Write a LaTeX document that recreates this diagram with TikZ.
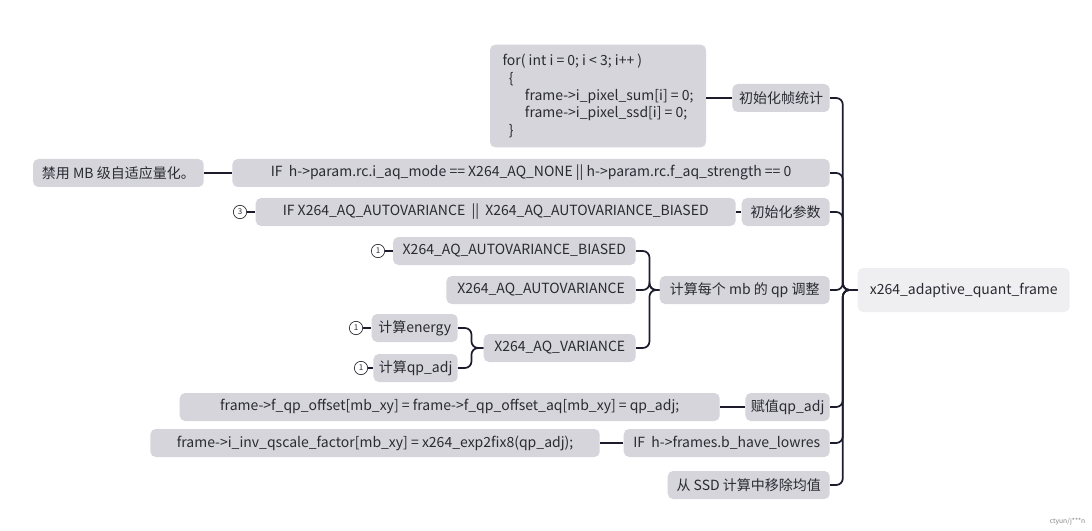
\documentclass[tikz,border=0pt]{standalone}
\usepackage{fontspec}
\setmainfont{Noto Sans CJK SC}
\definecolor{boxgray}{HTML}{D5D5DB}
\definecolor{rootgray}{HTML}{EFEFF1}
\definecolor{linecol}{HTML}{1C1C2C}
\definecolor{txtcol}{HTML}{2A2A33}
\tikzset{
  box/.style={fill=boxgray, rounded corners=4pt, text=txtcol, inner xsep=4pt, inner ysep=0pt, minimum height=21pt, font=\fontsize{10.5}{13}\selectfont, anchor=east},
  conn/.style={draw=linecol, line width=1.3pt, rounded corners=5pt},
  num/.style={circle, draw=txtcol, line width=0.5pt, inner sep=0pt, minimum size=10pt, font=\fontsize{6}{6}\selectfont, text=txtcol},
}
\begin{document}
\begin{tikzpicture}[x=0.75pt, y=-0.75pt]
\useasboundingbox (0,0) rectangle (1092,531);

% root
\node[box, fill=rootgray, minimum height=33pt, minimum width=159pt] (root) at (1070,290) {x264\_adaptive\_quant\_frame};

% first level
\node[box, minimum width=73pt] (stat) at (830,98) {初始化帧统计};
\node[box, minimum width=448pt] (ifnone) at (830,173) {IF\ \ h->param.rc.i\_aq\_mode == X264\_AQ\_NONE || h->param.rc.f\_aq\_strength == 0};
\node[box, minimum width=66pt] (param) at (830,212) {初始化参数};
\node[box, minimum width=127.5pt] (calc) at (830,290) {计算每个 mb 的 qp 调整};
\node[box, minimum width=62pt] (assign) at (830,407) {赋值qp\_adj};
\node[box, minimum width=154.5pt] (lowres) at (830,443) {IF\ \ h->frames.b\_have\_lowres};
\node[box, minimum width=121.5pt] (mean) at (830,485) {从 SSD 计算中移除均值};

\foreach \n in {stat,ifnone,param,calc,assign,lowres,mean}
  \draw[conn] (\n.east) -| ([xshift=-11pt]root.west) -- (root.west);

% second level
\node[box, align=left, minimum height=77pt, minimum width=162pt, anchor=center] (loop) at (598,96)
  {for( int i = 0; i < 3; i++ )\\\ \ \{\\\hspace{1.6em}frame->i\_pixel\_sum[i] = 0;\\\hspace{1.6em}frame->i\_pixel\_ssd[i] = 0;\\\ \ \}};
\draw[conn] (stat.west) -- (loop.east |- stat.west);

\node[box, minimum width=128pt] (disable) at (204,173) {禁用 MB 级自适应量化。};
\draw[conn] (ifnone.west) -- (disable.east);

\node[box, minimum width=360pt] (autoif) at (736,212) {IF X264\_AQ\_AUTOVARIANCE\ \ ||\ \ X264\_AQ\_AUTOVARIANCE\_BIASED};
\draw[conn] (param.west) -- (autoif.east);
\node[num] (n3) at (240,212) {3};
\draw[conn, line width=0.8pt] (n3.east) -- (autoif.west);

\node[box, minimum width=182pt] (biased) at (636,251) {X264\_AQ\_AUTOVARIANCE\_BIASED};
\node[box, minimum width=142pt] (autovar) at (636,290) {X264\_AQ\_AUTOVARIANCE};
\node[box, minimum width=114pt] (variance) at (636,348) {X264\_AQ\_VARIANCE};
\foreach \n in {biased,autovar,variance}
  \draw[conn] (\n.east) -| ([xshift=-7.5pt]calc.west) -- (calc.west);
\node[num] (n1a) at (378,251) {1};
\draw[conn, line width=0.8pt] (n1a.east) -- (biased.west);

\node[box, minimum width=64.5pt] (energy) at (458,328) {计算energy};
\node[box, minimum width=61.5pt] (qpadj) at (458,368) {计算qp\_adj};
\foreach \n in {energy,qpadj}
  \draw[conn] (\n.east) -| ([xshift=-9pt]variance.west) -- (variance.west);
\node[num] (n1b) at (356,328) {1};
\draw[conn, line width=0.8pt] (n1b.east) -- (energy.west);
\node[num] (n1c) at (361,368) {1};
\draw[conn, line width=0.8pt] (n1c.east) -- (qpadj.west);

\node[box, minimum width=405pt] (offset) at (720,407) {frame->f\_qp\_offset[mb\_xy] = frame->f\_qp\_offset\_aq[mb\_xy] = qp\_adj;};
\draw[conn] (assign.west) -- (offset.east);

\node[box, minimum width=337pt] (qscale) at (600,443) {frame->i\_inv\_qscale\_factor[mb\_xy] = x264\_exp2fix8(qp\_adj);};
\draw[conn] (lowres.west) -- (qscale.east);

\node[text=gray, font=\fontsize{5}{5}\selectfont, anchor=east] (mark) at (1090,522) {ctyun/j***n};
\end{tikzpicture}
\end{document}
